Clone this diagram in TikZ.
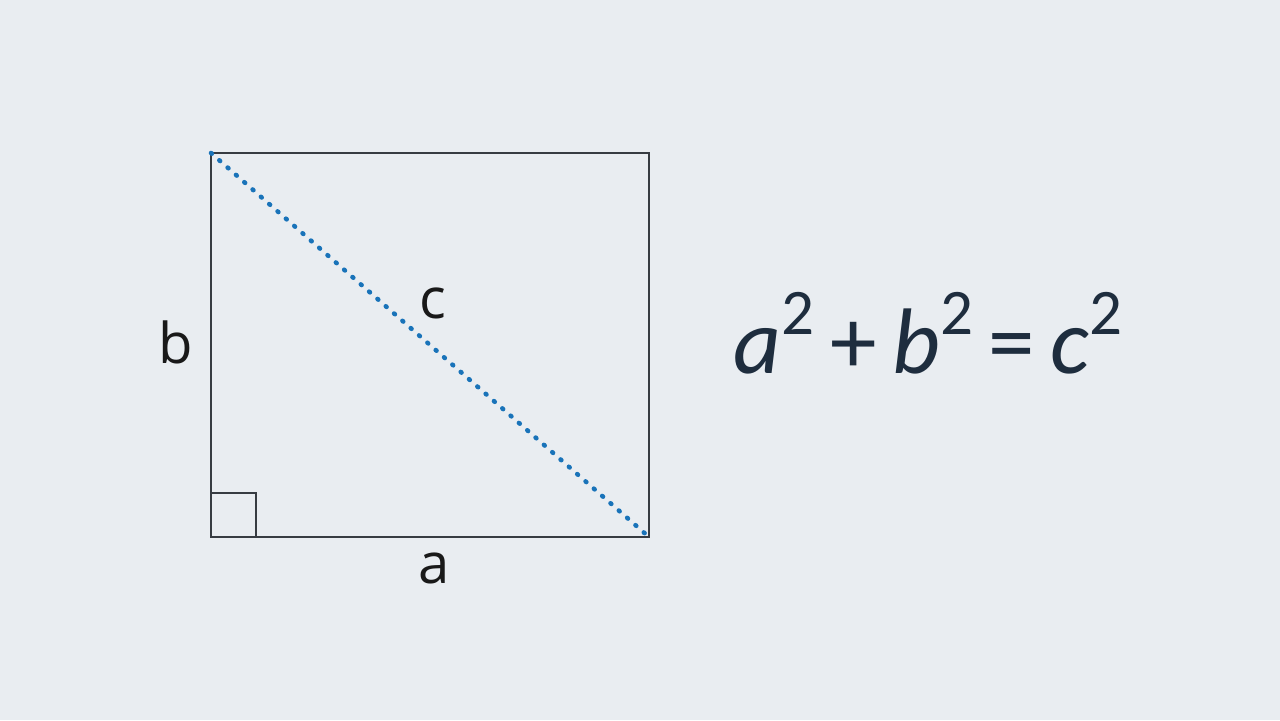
\documentclass[tikz,border=0pt]{standalone}
\usepackage{fontspec}
\setmainfont{Open Sans}
\newfontfamily\eqfont{Carlito}
\begin{document}
\begin{tikzpicture}[x=0.02cm,y=-0.02cm]
  \definecolor{bgcol}{RGB}{233,237,241}
  \definecolor{edgecol}{RGB}{55,60,66}
  \definecolor{diagblue}{RGB}{25,115,185}
  \definecolor{eqcol}{RGB}{30,45,62}
  \tikzset{
    side/.style={edgecol, line width=0.8pt},
    sidelabel/.style={font=\fontsize{32}{38}\selectfont, text=black!90, inner sep=0pt}
  }
  \fill [bgcol] (0, 0) rectangle (1280, 720);
  \useasboundingbox (0, 0) rectangle (1280, 720);

  \coordinate (tl) at (211, 153);
  \coordinate (tr) at (649, 153);
  \coordinate (br) at (649, 537);
  \coordinate (bl) at (211, 537);

  \draw [side] (tl) -- (tr) -- (br) -- (bl) -- cycle;
  \draw [side] (211, 493) -- (256, 493) -- (256, 537);
  \draw [diagblue, line width=2.6pt, line cap=round, dash pattern=on 0.6pt off 5.7pt] (tl) -- (br);

  \node [sidelabel] (b) at (176, 342) {b};
  \node [sidelabel] (c) at (433, 303) {c};
  \node [sidelabel] (a) at (434, 568) {a};

  \node [text=eqcol, inner sep=0pt, font=\eqfont\fontsize{53}{60}\selectfont] (eq) at (928, 333)
    {\itshape a\/\upshape\raisebox{0.42em}{\fontsize{37}{42}\selectfont 2}\,+\,\itshape b\/\upshape\raisebox{0.42em}{\fontsize{37}{42}\selectfont 2}\,=\,\itshape c\/\upshape\raisebox{0.42em}{\fontsize{37}{42}\selectfont 2}};
\end{tikzpicture}
\end{document}
